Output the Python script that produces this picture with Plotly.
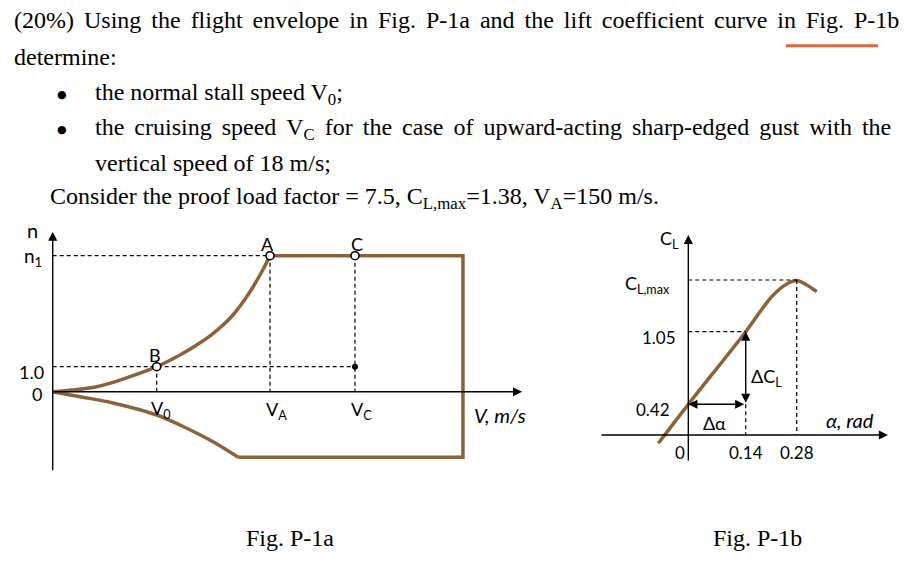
import plotly.graph_objects as go

W, H = 912, 562

# ---- Fig. P-1a: flight envelope (schematic units: V / VA, n as drawn) ----
v_up = [0, 0.2025, 0.3557, 0.4786, 0.5855, 0.6627, 0.739, 0.8159, 0.8928, 0.954, 1.0]
n_up = [0, 0.2, 0.6, 1.0, 1.468, 1.868, 2.336, 2.936, 3.8, 4.668, 5.44]
v_low = [0, 0.1256, 0.2775, 0.4786, 0.5855, 0.7377, 0.854]
n_low = [0, -0.2, -0.452, -0.932, -1.332, -2.0, -2.624]
V0, VA, VC, VD = 0.4786, 1.0, 1.391, 1.888
n1, n_neg = 5.44, -2.624

# ---- Fig. P-1b: lift curve (schematic, alpha in rad, CL as drawn) ----
alpha_pts = [-0.0732, 0, 0.14, 0.1798, 0.2073, 0.24, 0.2644, 0.2888, 0.3132]
cl_pts = [0.0816, 0.42, 1.05, 1.247, 1.3685, 1.4639, 1.4943, 1.4552, 1.3971]
alpha_peak, cl_peak = 0.2644, 1.4986
alpha_axis_cl = 0.1536

brown = "#8C6239"
sans = "Lato"
serif = "Liberation Serif"

fig = go.Figure()

# envelope outline: curves smoothed, the box part straight
thick = dict(color=brown, width=3.5)
fig.add_trace(go.Scatter(x=v_up, y=n_up, mode="lines", line=dict(shape="spline", **thick),
                         xaxis="x", yaxis="y"))
fig.add_trace(go.Scatter(x=v_low, y=n_low, mode="lines", line=dict(shape="spline", **thick),
                         xaxis="x", yaxis="y"))
fig.add_trace(go.Scatter(x=[VA, VD, VD, v_low[-1]], y=[n1, n1, n_neg, n_neg], mode="lines",
                         line=thick, xaxis="x", yaxis="y"))

dash = dict(color="black", width=1.2, dash="4px,3px")
for xs, ys in [([0, VA], [n1, n1]), ([0, VC], [1, 1]), ([V0, V0], [1, 0]),
               ([VA, VA], [n1, 0]), ([VC, VC], [n1, 0])]:
    fig.add_trace(go.Scatter(x=xs, y=ys, mode="lines", line=dash, xaxis="x", yaxis="y"))

fig.add_trace(go.Scatter(x=[VA, V0, VC], y=[n1, 1, n1], mode="markers",
                         marker=dict(size=8, color="white", line=dict(color="black", width=1.6)),
                         xaxis="x", yaxis="y"))
fig.add_trace(go.Scatter(x=[VC], y=[1], mode="markers",
                         marker=dict(size=6, color="black"), xaxis="x", yaxis="y"))

# lift curve
fig.add_trace(go.Scatter(x=alpha_pts, y=cl_pts, mode="lines", line=dict(shape="spline", **thick),
                         xaxis="x2", yaxis="y2"))
for xs, ys in [([0, alpha_peak], [cl_peak, cl_peak]), ([alpha_peak, alpha_peak], [cl_peak, alpha_axis_cl]),
               ([0, 0.14], [1.05, 1.05]), ([0.14, 0.14], [0.42, alpha_axis_cl])]:
    fig.add_trace(go.Scatter(x=xs, y=ys, mode="lines", line=dash, xaxis="x2", yaxis="y2"))

ann = []


def arrow(x, y, ax, ay, xr, yr, side="end"):
    ann.append(dict(x=x, y=y, ax=ax, ay=ay, xref=xr, yref=yr, axref=xr, ayref=yr,
                    showarrow=True, arrowhead=2, arrowsize=1.3, arrowwidth=1.4,
                    arrowcolor="black", arrowside=side, text=""))


def label(x, y, text, xr, yr, size=17, xanchor="center", font=sans, italic=False):
    ann.append(dict(x=x, y=y, xref=xr, yref=yr, text=text, showarrow=False,
                    xanchor=xanchor, yanchor="middle",
                    font=dict(family=font, size=size, color="black",
                              style="italic" if italic else "normal")))


# axes of P-1a
arrow(0, 6.4, 0, -3.2, "x", "y")
arrow(2.16, 0, 0, 0, "x", "y")
label(-0.06, 6.45, "n", "x", "y", size=20, xanchor="right")
label(-0.04, 5.4, "n<sub>1</sub>", "x", "y", size=19, xanchor="right")
label(-0.03, 0.8, "1.0", "x", "y", size=18, xanchor="right")
label(-0.04, -0.1, "0", "x", "y", size=18, xanchor="right")
label(VA - 0.01, n1 + 0.45, "A", "x", "y", size=18)
label(V0 - 0.01, 1 + 0.45, "B", "x", "y", size=18)
label(VC + 0.01, n1 + 0.45, "C", "x", "y", size=18)
label(V0 + 0.02, -0.7, "V<sub>0</sub>", "x", "y", size=18)
label(VA + 0.03, -0.75, "V<sub>A</sub>", "x", "y", size=18)
label(VC + 0.03, -0.75, "V<sub>C</sub>", "x", "y", size=18)
label(2.06, -0.95, "V, m/s", "x", "y", size=20, italic=True)

# axes of P-1b
arrow(0, 1.89, 0, -0.08, "x2", "y2")
arrow(0.487, alpha_axis_cl, -0.2154, alpha_axis_cl, "x2", "y2")
arrow(0, 0.42, 0.14, 0.42, "x2", "y2", side="end+start")
arrow(0.14, 1.05, 0.14, 0.42, "x2", "y2", side="end+start")
label(-0.045, 1.85, "C<sub>L</sub>", "x2", "y2", size=18)
label(-0.04, cl_peak - 0.04, "C<sub>L,max</sub>", "x2", "y2", size=18, xanchor="right")
label(-0.025, 1.0, "1.05", "x2", "y2", xanchor="right")
label(-0.04, 0.375, "0.42", "x2", "y2", xanchor="right")
label(-0.02, 0.0, "0", "x2", "y2")
label(0.14, 0.0, "0.14", "x2", "y2")
label(0.265, 0.0, "0.28", "x2", "y2")
label(0.065, 0.26, "Δα", "x2", "y2", size=18)
label(0.19, 0.65, "ΔC<sub>L</sub>", "x2", "y2", size=18)
label(0.395, 0.28, "α, rad", "x2", "y2", size=20, italic=True)

# problem statement (justified lines get a six-per-em space added to each gap)
js = " \u2006"
lines = [
    (12, 20, js.join("(20%) Using the flight envelope in Fig. P-1a and the lift coefficient curve in Fig. P-1b".split(" "))),
    (12, 57, "determine:"),
    (93, 94, "the normal stall speed V<sub>0</sub>;"),
    (93, 129, js.join("the cruising speed V<sub>C</sub> for the case of upward-acting sharp-edged gust with the".split(" "))),
    (93, 163, "vertical speed of 18 m/s;"),
    (48, 198, "Consider the proof load factor = 7.5, C<sub>L,max</sub>=1.38, V<sub>A</sub>=150 m/s."),
]
for x, y, t in lines:
    ann.append(dict(x=x / W, y=1 - y / H, xref="paper", yref="paper", text=t, showarrow=False,
                    xanchor="left", yanchor="middle", font=dict(family=serif, size=24, color="black")))
for y in [94, 129]:
    ann.append(dict(x=62 / W, y=1 - y / H, xref="paper", yref="paper", text="●", showarrow=False,
                    xanchor="center", yanchor="middle", font=dict(family="DejaVu Sans", size=11, color="black")))
for x, t in [(290, "Fig. P-1a"), (757, "Fig. P-1b")]:
    ann.append(dict(x=x / W, y=1 - 538 / H, xref="paper", yref="paper", text=t, showarrow=False,
                    xanchor="center", yanchor="middle", font=dict(family=serif, size=24, color="black")))

hidden = dict(visible=False, fixedrange=True)
fig.update_layout(
    width=W, height=H, margin=dict(l=0, r=0, t=0, b=0),
    paper_bgcolor="white", plot_bgcolor="white", showlegend=False,
    xaxis=dict(domain=[0, 540 / W], range=[-0.2425, 2.2425], **hidden),
    yaxis=dict(domain=[1 - 470 / H, 1 - 222 / H], range=[-3.132, 6.788], **hidden),
    xaxis2=dict(domain=[590 / W, 900 / W], range=[-0.2398, 0.5163], **hidden),
    yaxis2=dict(domain=[1 - 475 / H, 1 - 225 / H], range=[-0.1935, 1.9759], **hidden),
    annotations=ann,
    shapes=[dict(type="line", xref="paper", yref="paper", x0=786 / W, x1=878 / W,
                 y0=1 - 45.7 / H, y1=1 - 45.7 / H, line=dict(color="#E0673E", width=3))],
)

fig.write_html("out.html", config={"staticPlot": True},
               post_script="document.body.style.margin='0';document.body.style.overflow='hidden';")
